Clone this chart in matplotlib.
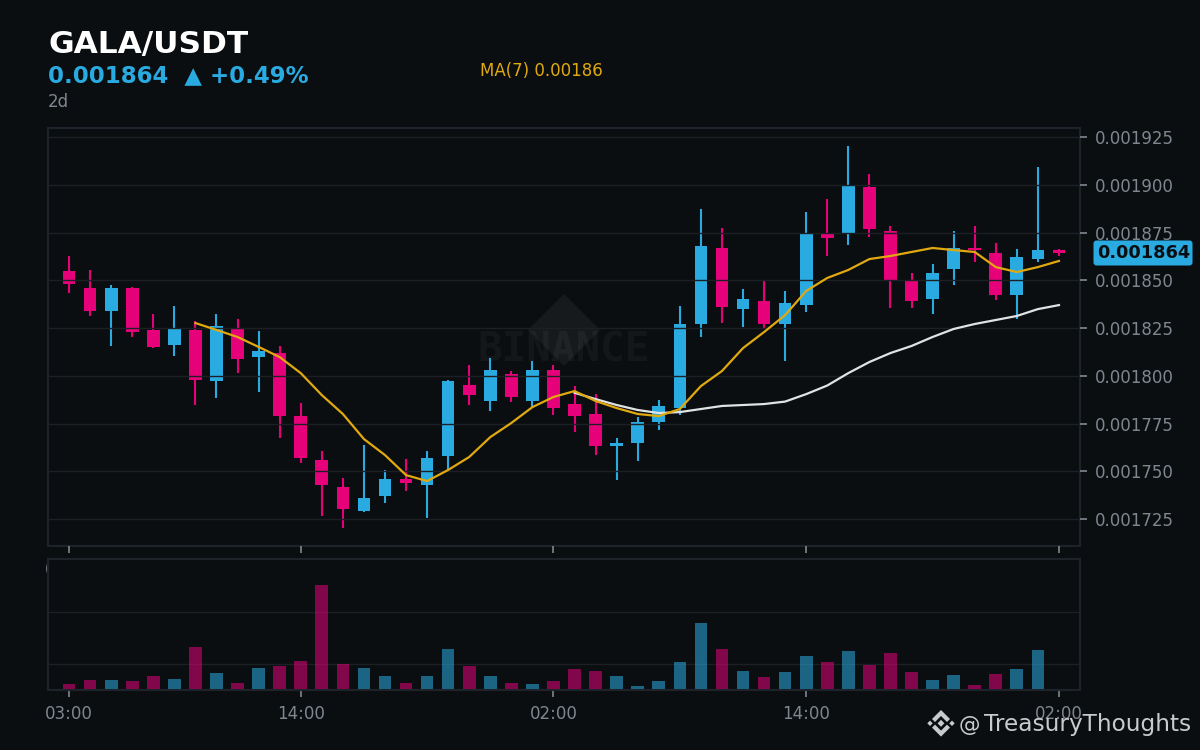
"""
GALA/USDT candlestick chart with MA lines and volume panel.
"""

import matplotlib
matplotlib.use("Agg")
import matplotlib.pyplot as plt
from matplotlib.patches import FancyBboxPatch, Polygon
from matplotlib.ticker import FixedLocator, FixedFormatter

# Prices are in millionths of USDT (1862.7 -> 0.0018627)
opens = [1854.8, 1845.9, 1833.9, 1845.9, 1824.0, 1816.1, 1824.0, 1797.4, 1824.5, 1810.0,
         1811.9, 1778.9, 1755.9, 1741.8, 1729.2, 1737.2, 1745.9, 1743.0, 1758.0, 1795.2,
         1786.8, 1800.9, 1786.8, 1803.0, 1785.2, 1780.0, 1763.2, 1764.8, 1775.8, 1783.1,
         1827.1, 1866.9, 1834.9, 1839.1, 1827.1, 1837.0, 1874.7, 1874.2, 1898.8, 1875.8,
         1849.6, 1840.2, 1855.9, 1866.9, 1864.3, 1842.3, 1861.1, 1865.8]
closes = [1848.2, 1833.9, 1845.9, 1822.9, 1815.1, 1824.5, 1797.9, 1826.0, 1808.8, 1813.0,
          1779.1, 1757.1, 1743.0, 1730.2, 1736.0, 1745.9, 1743.8, 1756.9, 1797.3, 1789.9,
          1803.0, 1788.9, 1803.0, 1783.1, 1778.9, 1763.2, 1764.8, 1775.8, 1784.2, 1827.1,
          1867.9, 1836.0, 1840.2, 1827.1, 1838.1, 1874.2, 1872.1, 1899.3, 1876.8, 1850.1,
          1839.1, 1853.8, 1866.9, 1865.8, 1842.3, 1862.2, 1865.8, 1864.3]
highs = [1862.7, 1855.4, 1847.5, 1846.5, 1832.3, 1836.5, 1828.7, 1832.3, 1829.7, 1823.4,
         1815.6, 1785.6, 1760.4, 1746.3, 1763.6, 1750.5, 1756.4, 1760.6, 1797.8, 1805.6,
         1809.3, 1802.5, 1807.7, 1805.6, 1794.6, 1790.4, 1767.4, 1778.4, 1787.3, 1836.5,
         1887.3, 1877.4, 1845.4, 1849.6, 1844.4, 1885.7, 1892.5, 1920.3, 1905.6, 1878.4,
         1853.8, 1858.5, 1875.8, 1878.4, 1869.5, 1866.4, 1909.3, 1866.4]
lows = [1843.5, 1831.4, 1815.7, 1820.4, 1814.7, 1810.5, 1784.8, 1788.5, 1801.6, 1791.6,
        1767.6, 1754.5, 1726.7, 1720.4, 1728.7, 1733.5, 1739.8, 1725.7, 1750.7, 1784.7,
        1781.7, 1786.3, 1783.6, 1779.5, 1770.5, 1758.5, 1745.4, 1755.4, 1771.6, 1779.5,
        1820.3, 1827.6, 1825.5, 1824.5, 1807.7, 1833.4, 1862.7, 1868.5, 1872.6, 1835.5,
        1835.5, 1832.3, 1847.5, 1859.6, 1839.7, 1829.7, 1859.6, 1862.7]

ma7 = [1827.6, 1824.0, 1820.3, 1815.1, 1809.8, 1801.4, 1789.9, 1780.0, 1766.9, 1758.5,
       1748.0, 1744.9, 1750.7, 1757.5, 1767.9, 1775.3, 1783.6, 1788.9, 1792.0, 1786.8,
       1783.1, 1780.0, 1778.9, 1782.6, 1794.6, 1802.5, 1814.5, 1822.9, 1831.8, 1844.4,
       1851.2, 1855.4, 1861.1, 1862.7, 1864.8, 1866.9, 1865.8, 1864.8, 1856.9, 1854.3,
       1856.9, 1860.1]
ma25 = [1791.1, 1787.8, 1784.7, 1782.1, 1780.5, 1781.0, 1782.6, 1784.2, 1784.7, 1785.2,
        1786.5, 1790.4, 1794.9, 1801.4, 1807.2, 1811.9, 1815.6, 1820.3, 1824.5, 1827.1,
        1829.2, 1831.3, 1834.9, 1837.0]

volumes = [5.3, 9.3, 9.3, 8.3, 13.3, 10.3, 42.3, 16.3, 6.3, 21.3, 23.3, 28.3, 104.3, 25.3,
           21.3, 13.3, 6.3, 13.3, 40.3, 23.3, 13.3, 6.3, 5.3, 8.3, 20.3, 18.3, 13.3, 3.3,
           8.3, 27.3, 66.3, 40.3, 18.3, 12.3, 17.3, 33.3, 27.3, 38.3, 24.3, 36.3, 17.3,
           9.3, 14.3, 4.3, 15.3, 20.3, 39.3, 0.4]

price_ticks = [1725, 1750, 1775, 1800, 1825, 1850, 1875, 1900, 1925]
price_labels = ["0.001725", "0.001750", "0.001775", "0.001800", "0.001825",
                "0.001850", "0.001875", "0.001900", "0.001925"]
time_ticks = [0, 11, 23, 35, 47]
time_labels = ["03:00", "14:00", "02:00", "14:00", "02:00"]
volume_grid = [25, 77]

BG = "#0b0e11"
GRID = "#1c2025"
BORDER = "#1e2329"
TICK = "#808690"
UP = "#29abe2"
DOWN = "#e6007a"
MA7_COLOR = "#e0a90f"
MA25_COLOR = "#e0e2e4"
LOGO = "#c8cacd"

plt.rcParams["font.family"] = "DejaVu Sans"


def px(x, y):
    # pixel position (from the top left) to figure fraction
    return x / 1200, 1 - y / 750


fig = plt.figure(figsize=(12, 7.5), dpi=100, facecolor=BG)
ax = fig.add_axes([48 / 1200, 1 - 546 / 750, 1032 / 1200, 418 / 750], facecolor=BG)
ax_vol = fig.add_axes([48 / 1200, 1 - 690 / 750, 1032 / 1200, 131 / 750], facecolor=BG)

colors = [UP if c >= o else DOWN for o, c in zip(opens, closes)]
xs = list(range(len(opens)))

# Candles
ax.vlines(xs, lows, highs, colors=colors, linewidth=1.5, zorder=2)
ax.bar(xs, [abs(c - o) for o, c in zip(opens, closes)],
       bottom=[min(o, c) for o, c in zip(opens, closes)],
       width=0.6, color=colors, linewidth=0, zorder=2)

# Moving averages
ax.plot(xs[-len(ma25):], ma25, color=MA25_COLOR, linewidth=1.6, zorder=4)
ax.plot(xs[-len(ma7):], ma7, color=MA7_COLOR, linewidth=1.6, zorder=5)

# Watermark, see-through so the text still shows on the diamond
ax.plot([0.5], [0.517], marker="D", markersize=36.5, color="white", alpha=0.05,
        markeredgewidth=0, transform=ax.transAxes, zorder=1)
ax.text(0.5, 0.47, "BINANCE", transform=ax.transAxes, ha="center", va="center",
        family="DejaVu Sans Mono", fontweight="bold", fontsize=29.5, color="white",
        alpha=0.04, zorder=1)

ax.set_xlim(-1, 48)
ax.set_ylim(1710.9, 1929.7)
ax.grid(True, axis="y", color=GRID, linewidth=1, zorder=3)
ax.set_axisbelow(False)
ax.yaxis.tick_right()
ax.yaxis.set_major_locator(FixedLocator(price_ticks))
ax.yaxis.set_major_formatter(FixedFormatter(price_labels))
ax.xaxis.set_major_locator(FixedLocator(time_ticks))
ax.xaxis.set_major_formatter(FixedFormatter(time_labels))
ax.tick_params(colors=TICK, labelsize=12, length=5, width=1.2, pad=5.6)

# Volume
ax_vol.bar(xs, volumes, width=0.6, color=colors, alpha=0.55, linewidth=0, zorder=3)
ax_vol.set_xlim(-1, 48)
ax_vol.set_ylim(-0.7, 130.3)
ax_vol.yaxis.set_major_locator(FixedLocator(volume_grid))
ax_vol.tick_params(axis="y", left=False, labelleft=False)
ax_vol.grid(True, axis="y", color=GRID, linewidth=1, zorder=1)
ax_vol.xaxis.set_major_locator(FixedLocator(time_ticks))
ax_vol.xaxis.set_major_formatter(FixedFormatter(time_labels))
ax_vol.tick_params(axis="x", colors=TICK, labelsize=12, length=5, width=1.2, pad=5.6)

for a in (ax, ax_vol):
    for s in a.spines.values():
        s.set_color(BORDER)
        s.set_linewidth(1.5)

# Header
fig.text(*px(48, 44), "GALA/USDT", color="white", fontsize=22.5, fontweight="bold", va="center")
fig.text(*px(48, 76), "0.001864  ▲ +0.49%", color=UP, fontsize=16.5, fontweight="bold", va="center")
fig.text(*px(48, 102), "2d", color=TICK, fontsize=12, va="center")
fig.text(*px(480, 71), "MA(7) 0.00186", color=MA7_COLOR, fontsize=12, va="center")

# Last price badge
fig.add_artist(FancyBboxPatch(px(1096.5, 262.5), 93 / 1200, 19 / 750, boxstyle="round,pad=0.0025",
                              transform=fig.transFigure, facecolor=UP, edgecolor="none",
                              mutation_aspect=1.6))
fig.text(*px(1144, 253), "0.001864", color=BG, fontsize=12.8, fontweight="bold",
         ha="center", va="center", zorder=10)

# Footer with logo
logo_parts = [
    [(941, 719.8), (944.4, 723.3), (941, 726.8), (937.6, 723.3)],
    [(930, 720.6), (932.7, 723.3), (930, 726), (927.3, 723.3)],
    [(952, 720.6), (954.7, 723.3), (952, 726), (949.3, 723.3)],
    [(941, 710), (950, 719), (947, 722), (941, 716), (935, 722), (932, 719)],
    [(941, 736.6), (950, 727.6), (947, 724.6), (941, 730.6), (935, 724.6), (932, 727.6)],
]
for pts in logo_parts:
    fig.add_artist(Polygon([px(x, y) for x, y in pts], transform=fig.transFigure,
                           facecolor=LOGO, edgecolor="none"))
fig.text(*px(980.5, 725), "@", color=LOGO, fontsize=15.5, ha="right", va="center", zorder=10)
fig.text(*px(1191, 725), "TreasuryThoughts", color=LOGO, fontsize=16.7, ha="right", va="center",
         zorder=10)

fig.savefig("out.png", dpi=100, facecolor=BG)
